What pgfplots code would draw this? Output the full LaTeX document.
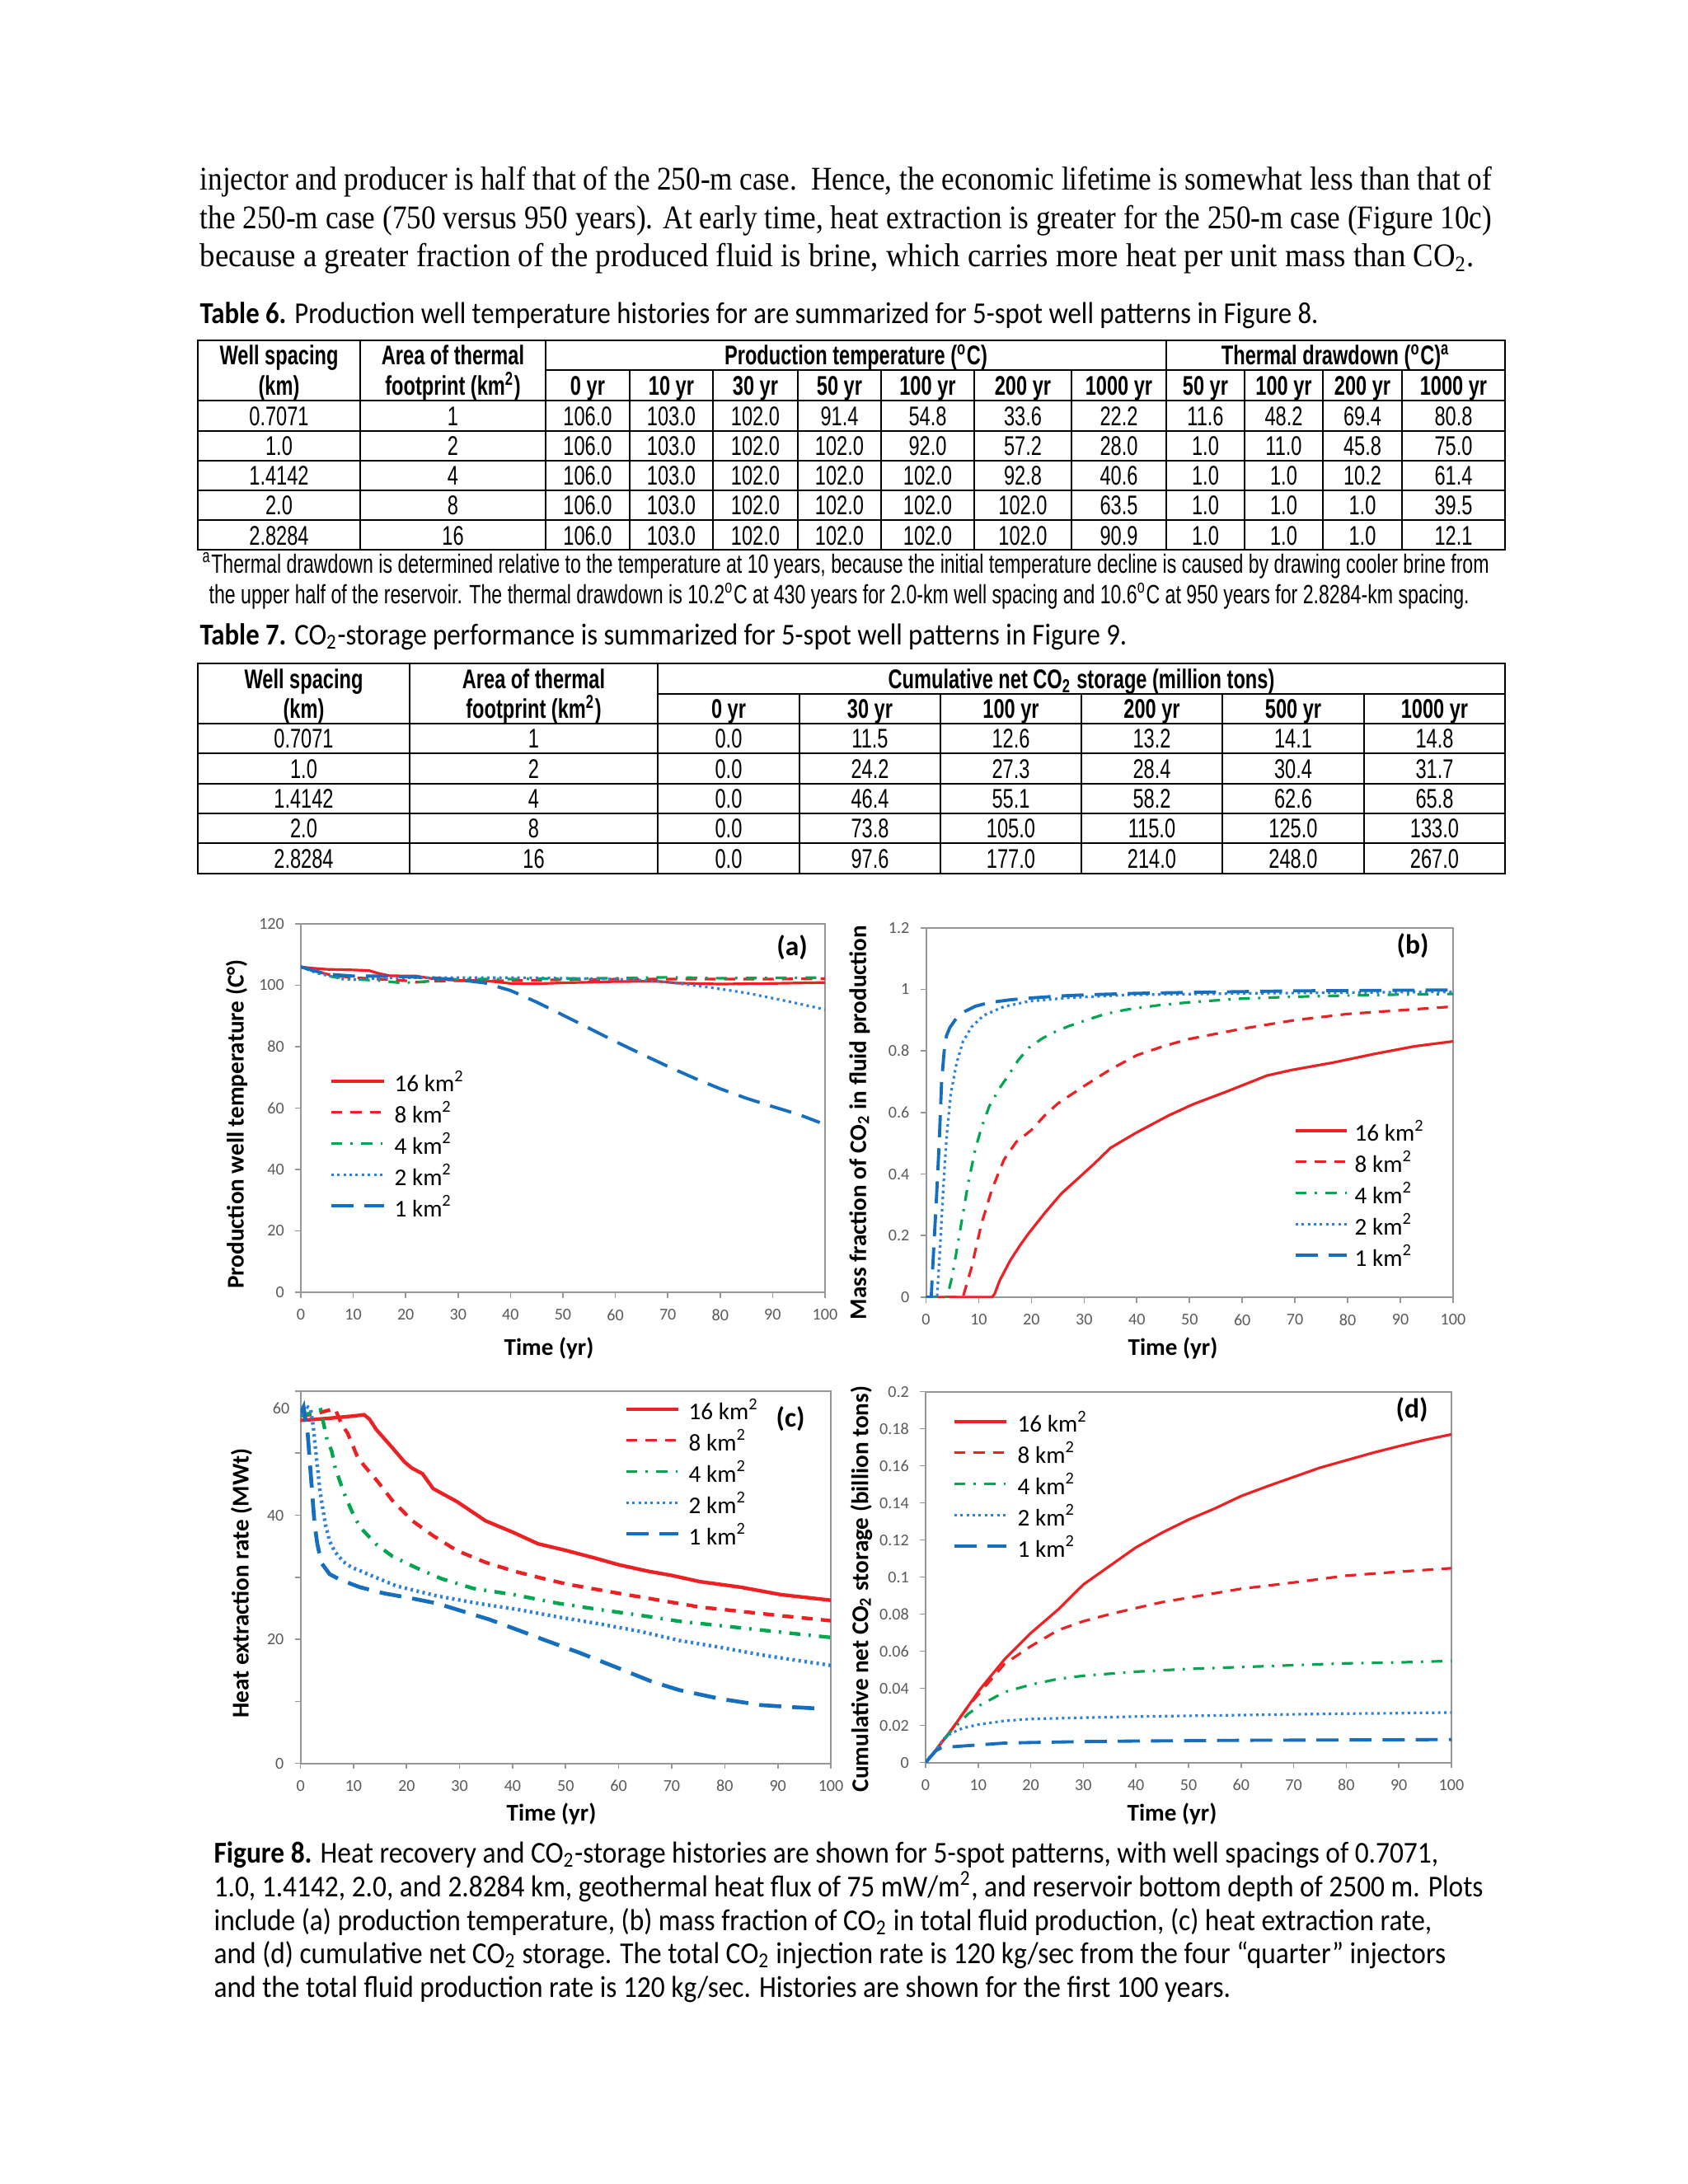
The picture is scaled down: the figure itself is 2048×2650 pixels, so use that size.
\documentclass[border=0pt]{standalone}
\usepackage{pgfplots}
\pgfplotsset{compat=1.18}
\usepackage{fontspec}
\setmainfont{Liberation Serif}[FakeStretch=0.875]
\newfontfamily\serifwide{Liberation Serif}[FakeStretch=0.916]
\newfontfamily\calfont{Carlito}[FakeStretch=0.907]
\newfontfamily\calfontt{Carlito}[FakeStretch=0.89]
\newfontfamily\chfont{Carlito}
\newfontfamily\tabfont{Liberation Sans}[FakeStretch=0.72]

\definecolor{cred}{RGB}{237,32,36}
\definecolor{cgreen}{RGB}{0,166,80}
\definecolor{cblue}{RGB}{22,110,190}
\definecolor{cblue2}{RGB}{45,130,215}
\definecolor{axgray}{RGB}{150,150,150}
\definecolor{tickgray}{RGB}{90,90,90}

\tikzset{
 s16/.style={cred, line width=0.95pt},
 s8/.style={cred, line width=0.95pt, dash pattern=on 4pt off 3pt},
 s4/.style={cgreen, line width=0.95pt, dash pattern=on 4pt off 3pt on 0.8pt off 3pt},
 s2/.style={cblue2, line width=0.95pt, dash pattern=on 0.9pt off 1.3pt},
 s1/.style={cblue, line width=1.15pt, dash pattern=on 8pt off 4pt},
 tabc/.style={font=\tabfont\fontsize{9.8}{11}\selectfont, inner sep=0pt, text height=7pt, text depth=0pt, anchor=center},
 tabh/.style={font=\tabfont\bfseries\fontsize{9.8}{11}\selectfont, inner sep=0pt, text height=7pt, text depth=0pt, anchor=center},
}
\newcommand\legfont{\chfont\fontsize{8.7}{10}\selectfont}
\newcommand\ttlfont{\chfont\bfseries\fontsize{8.7}{10}\selectfont}
\newcommand\letfont{\chfont\bfseries\fontsize{10}{12}\selectfont}
\newcommand\tickfont{\chfont\fontsize{6}{7}\selectfont}

\pgfplotsset{pane/.style={
  scale only axis, anchor=south west,
  xmin=0, xmax=100, xtick={0,10,...,100},
  axis line style={draw=axgray, line width=0.6pt},
  tick style={draw=axgray, line width=0.5pt},
  tick align=outside, major tick length=2pt,
  xtick pos=bottom, ytick pos=left,
  every tick label/.append style={font=\tickfont, text=tickgray},
  xticklabel style={yshift=-0.6pt},
  yticklabel style={xshift=-0.5pt},
  /pgf/number format/assume math mode=true,
  /pgf/number format/fixed,
  scaled y ticks=false,
}}

\newcommand\leg[4]{%
 \foreach \k/\lab in {0/16,1/8,2/4,3/2,4/1} {\node[anchor=west,inner sep=0pt,font=\legfont] at (#3,{-#4-37.8*\k}) {\lab\ km\textsuperscript{2}};}
 \draw[s16] (#1,-#4) -- (#2,-#4);
 \draw[s8] (#1,{-#4-37.8}) -- (#2,{-#4-37.8});
 \draw[s4] (#1,{-#4-75.6}) -- (#2,{-#4-75.6});
 \draw[s2] (#1,{-#4-113.4}) -- (#2,{-#4-113.4});
 \draw[s1] (#1,{-#4-151.2}) -- (#2,{-#4-151.2});
}

\begin{document}
\begin{tikzpicture}[x=0.298828pt,y=0.298828pt]
\path[use as bounding box, fill=white] (0,0) rectangle (2048,-2650);

% ---------- paragraph ----------
\begin{scope}[every node/.style={anchor=base west, inner sep=0pt, font=\fontsize{12}{13.9}\selectfont}]
\node at (242,-230) {\makebox[468.3pt][s]{injector and producer is half that of the 250-m case.\ \ Hence, the economic lifetime is somewhat less than that of}};
\node at (242,-277) {\makebox[468.3pt][s]{the 250-m case (750 versus 950 years). At early time, heat extraction is greater for the 250-m case (Figure 10c)}};
\node at (242,-323) {\serifwide because a greater fraction of the produced fluid is brine, which carries more heat per unit mass than CO\textsubscript{2}.};
\end{scope}

% ---------- captions ----------
\begin{scope}[every node/.style={anchor=base west, inner sep=0pt, font=\calfontt\fontsize{11}{12.1}\selectfont}]
\node at (242,-392) {\textbf{Table 6.} Production well temperature histories for are summarized for 5-spot well patterns in Figure 8.};
\node at (242,-782) {\textbf{Table 7.} CO\textsubscript{2}-storage performance is summarized for 5-spot well patterns in Figure 9.};
\end{scope}
\begin{scope}[every node/.style={anchor=base west, inner sep=0pt, font=\calfont\fontsize{11}{12.1}\selectfont}]
\node at (259,-2260) {\textbf{Figure 8.} Heat recovery and CO\textsubscript{2}-storage histories are shown for 5-spot patterns, with well spacings of 0.7071,};
\node at (259,-2301) {1.0, 1.4142, 2.0, and 2.8284 km, geothermal heat flux of 75 mW/m\textsuperscript{2}, and reservoir bottom depth of 2500 m. Plots};
\node at (259,-2342) {include (a) production temperature, (b) mass fraction of CO\textsubscript{2} in total fluid production, (c) heat extraction rate,};
\node at (259,-2382) {and (d) cumulative net CO\textsubscript{2} storage. The total CO\textsubscript{2} injection rate is 120 kg/sec from the four “quarter” injectors};
\node at (259,-2423) {and the total fluid production rate is 120 kg/sec. Histories are shown for the first 100 years.};
\end{scope}

% ---------- Table 6 ----------
\begin{scope}[line width=0.8pt]
\draw (240,-413) rectangle (1826,-667);
\foreach \yy in {486,523,559,595,631} \draw (240,-\yy) -- (1826,-\yy);
\draw (662,-449) -- (1826,-449);
\foreach \xx in {437,662,1415} \draw (\xx,-413) -- (\xx,-667);
\foreach \xx in {764,865,968,1069,1182,1300,1510,1605,1701} \draw (\xx,-449) -- (\xx,-667);
\end{scope}
\def\colsA{{338.5,549.5,713,814.5,916.5,1018.5,1125.5,1241,1357.5,1462.5,1557.5,1653,1763.5}}
\node[tabh] at (338.5,-431) {Well spacing};
\node[tabh] at (338.5,-467.5) {(km)};
\node[tabh] at (549.5,-431) {Area of thermal};
\node[tabh] at (549.5,-467.5) {footprint (km\textsuperscript{2})};
\node[tabh] at (1038.5,-431) {Production temperature (\textsuperscript{o}C)};
\node[tabh] at (1620.5,-431) {Thermal drawdown (\textsuperscript{o}C)\textsuperscript{a}};
\foreach \v [count=\c from 2] in {0 yr,10 yr,30 yr,50 yr,100 yr,200 yr,1000 yr,50 yr,100 yr,200 yr,1000 yr} {
  \pgfmathsetmacro\xx{\colsA[\c]}
  \node[tabh] at (\xx,-467.5) {\v};
}
\foreach \row [count=\r from 0] in {
 {0.7071,1,106.0,103.0,102.0,91.4,54.8,33.6,22.2,11.6,48.2,69.4,80.8},
 {1.0,2,106.0,103.0,102.0,102.0,92.0,57.2,28.0,1.0,11.0,45.8,75.0},
 {1.4142,4,106.0,103.0,102.0,102.0,102.0,92.8,40.6,1.0,1.0,10.2,61.4},
 {2.0,8,106.0,103.0,102.0,102.0,102.0,102.0,63.5,1.0,1.0,1.0,39.5},
 {2.8284,16,106.0,103.0,102.0,102.0,102.0,102.0,90.9,1.0,1.0,1.0,12.1}} {
 \foreach \v [count=\c from 0] in \row {
  \pgfmathsetmacro\xx{\colsA[\c]}
  \node[tabc] at (\xx,{-504.5-36.2*\r}) {\v};
 }}
\begin{scope}[every node/.style={anchor=base west, inner sep=0pt, font=\tabfont\fontsize{9.6}{11}\selectfont}]
\node at (245,-695) {\textsuperscript{a}Thermal drawdown is determined relative to the temperature at 10 years, because the initial temperature decline is caused by drawing cooler brine from};
\node at (253,-732) {the upper half of the reservoir. The thermal drawdown is 10.2\textsuperscript{o}C at 430 years for 2.0-km well spacing and 10.6\textsuperscript{o}C at 950 years for 2.8284-km spacing.};
\end{scope}

% ---------- Table 7 ----------
\begin{scope}[line width=0.8pt]
\draw (240,-805) rectangle (1826,-1060);
\foreach \yy in {878,914,951,987,1023} \draw (240,-\yy) -- (1826,-\yy);
\draw (798,-842) -- (1826,-842);
\foreach \xx in {497,798} \draw (\xx,-805) -- (\xx,-1060);
\foreach \xx in {970,1141,1312,1483,1655} \draw (\xx,-842) -- (\xx,-1060);
\end{scope}
\def\colsB{{368.5,647.5,884,1055.5,1226.5,1397.5,1569,1740.5}}
\node[tabh] at (368.5,-823.5) {Well spacing};
\node[tabh] at (368.5,-860) {(km)};
\node[tabh] at (647.5,-823.5) {Area of thermal};
\node[tabh] at (647.5,-860) {footprint (km\textsuperscript{2})};
\node[tabh] at (1312,-823.5) {Cumulative net CO\textsubscript{2} storage (million tons)};
\foreach \v [count=\c from 2] in {0 yr,30 yr,100 yr,200 yr,500 yr,1000 yr} {
  \pgfmathsetmacro\xx{\colsB[\c]}
  \node[tabh] at (\xx,-860) {\v};
}
\foreach \row [count=\r from 0] in {
 {0.7071,1,0.0,11.5,12.6,13.2,14.1,14.8},
 {1.0,2,0.0,24.2,27.3,28.4,30.4,31.7},
 {1.4142,4,0.0,46.4,55.1,58.2,62.6,65.8},
 {2.0,8,0.0,73.8,105.0,115.0,125.0,133.0},
 {2.8284,16,0.0,97.6,177.0,214.0,248.0,267.0}} {
 \foreach \v [count=\c from 0] in \row {
  \pgfmathsetmacro\xx{\colsB[\c]}
  \node[tabc] at (\xx,{-896-36.4*\r}) {\v};
 }}

% ---------- plots ----------
\coordinate (pa) at (365,-1568);
\coordinate (pb) at (1123.5,-1574);
\coordinate (pc) at (364.6,-2139.6);
\coordinate (pd) at (1123,-2138.6);

% (a)
\begin{axis}[pane, at={(pa)}, width=190.05pt, height=133.58pt,
  ymin=0, ymax=120, ytick={0,20,...,120}]
\addplot[s16] coordinates {(0,106) (2,105.6) (5,105.2) (10,105) (13,104.8) (15,103.8) (17,103.1) (22,103) (25,102.2) (30,101.6) (35,101.5) (38,101) (40,100.6) (45,100.5) (50,100.8) (60,101.2) (68,101.3) (72,100.7) (80,100.4) (90,100.6) (100,100.9)};
\addplot[s8] coordinates {(0,106) (3,104.5) (6,103.2) (10,102.5) (15,102) (20,101.5) (22,101) (25,101.3) (30,101.5) (40,101.5) (50,101.8) (60,102) (70,102) (80,102) (90,102) (100,102.2)};
\addplot[s4] coordinates {(0,106) (3,104.3) (6,102.8) (10,102) (15,101.5) (19,100.8) (22,101) (26,101.5) (30,102) (40,102) (50,102.2) (60,102.3) (70,102.6) (80,102.3) (90,102.4) (100,102.5)};
\addplot[s2] coordinates {(0,106) (3,104) (6,102.8) (8,102) (10,101.8) (15,102.3) (20,102.5) (30,102.5) (40,102.5) (50,102.3) (60,102) (65,101.7) (70,101) (75,100) (80,98.8) (85,97.5) (90,95.8) (95,94) (100,92.1)};
\addplot[s1] coordinates {(0,106) (3,104.5) (6,103.5) (10,103) (15,103) (20,102.8) (25,102.4) (30,101.8) (35,100.8) (40,98.3) (45,94.5) (50,90.3) (55,86) (60,81.7) (65,77.6) (70,73.6) (75,69.8) (80,66.3) (85,63.2) (90,60.5) (95,57.9) (99,55.3)};
\end{axis}

% (b)
\begin{axis}[pane, at={(pb)}, width=191.10pt, height=133.97pt,
  ymin=0, ymax=1.2, ytick={0,0.2,0.4,0.6,0.8,1,1.2}]
\addplot[s16] coordinates {(0,0) (12.5,0) (13,0.01) (14,0.055) (16,0.12) (17.9,0.17) (19.5,0.208) (22.6,0.275) (25.7,0.337) (28.8,0.385) (32,0.435) (35,0.485) (39.75,0.533) (46,0.59) (50.7,0.627) (56.9,0.667) (64.7,0.72) (69.4,0.738) (77.2,0.762) (85,0.79) (92.7,0.815) (100,0.831)};
\addplot[s8] coordinates {(0,0) (7,0) (8.6,0.094) (10.5,0.237) (12.5,0.35) (14.8,0.447) (17.1,0.504) (20,0.543) (22.5,0.59) (25,0.629) (30,0.686) (35,0.74) (40,0.786) (45,0.815) (50,0.839) (60,0.872) (70,0.9) (80,0.92) (90,0.932) (100,0.944)};
\addplot[s4] coordinates {(0,0) (4,0) (5,0.07) (6,0.17) (7,0.27) (8,0.37) (9.35,0.48) (10.5,0.55) (12,0.62) (14,0.68) (15.6,0.72) (17.5,0.77) (19.5,0.81) (22,0.84) (24.2,0.86) (27,0.88) (30.4,0.9) (34,0.92) (38,0.934) (44,0.948) (50,0.958) (60,0.97) (70,0.976) (80,0.98) (90,0.983) (100,0.985)};
\addplot[s2] coordinates {(0,0) (2.1,0) (2.7,0.17) (3.3,0.36) (3.9,0.52) (4.7,0.66) (5.8,0.76) (7,0.83) (8.6,0.877) (10.9,0.915) (14.8,0.944) (19.5,0.961) (26.5,0.972) (38.2,0.982) (61.6,0.987) (100,0.992)};
\addplot[s1] coordinates {(0,0) (1,0) (1.2,0.075) (1.95,0.31) (2.5,0.5) (2.96,0.7) (3.5,0.81) (3.9,0.85) (4.5,0.875) (5.5,0.9) (7,0.925) (9.35,0.945) (12,0.957) (16,0.966) (20,0.972) (25,0.978) (30,0.982) (40,0.987) (50,0.99) (70,0.995) (100,0.998)};
\end{axis}

% (c)
\begin{axis}[pane, at={(pc)}, width=192.27pt, height=134.95pt,
  ymin=0, ymax=60, ytick={0,10,...,60}, yticklabels={0,,20,,40,,}]
\addplot[s16, line width=1.3pt] coordinates {(0,55.3) (5,55.6) (10,56) (12,56.2) (13,55.5) (14.3,53.8) (17.3,50.9) (19.6,48.6) (21,47.6) (23,46.7) (25,44.3) (29.5,42.2) (34.9,39.1) (40.2,37.2) (44.8,35.4) (50.2,34.3) (55.5,33.1) (60.1,32) (65.4,31) (70,30.3) (75.3,29.3) (83,28.4) (90.6,27.2) (100,26.3)};
\addplot[s8, line width=1.3pt] coordinates {(0,56) (3,56.4) (6.5,57.2) (7.8,54.6) (8.9,53.2) (10.7,49.5) (12,48) (14.3,45.7) (17.3,42.4) (21.1,39.1) (25,36.7) (29.5,34.3) (34.9,32.4) (40.2,31) (44.8,30) (50.2,28.9) (60.1,27.4) (67.7,26.3) (75.3,25.2) (83,24.5) (90.6,23.8) (100,23)};
\addplot[s4, line width=1.3pt] coordinates {(0,56) (2,56.5) (3.8,57) (5,52.2) (5.9,50.3) (6.5,47.8) (8.1,43.8) (9.65,40.7) (11.2,38.1) (14.3,35.3) (17.3,33.4) (21.9,31.5) (26.5,29.8) (32.6,28.2) (40.2,27.2) (48.6,25.8) (56.3,24.8) (63.9,23.9) (71.5,22.9) (79.2,22.2) (86.8,21.5) (94.4,20.8) (100,20.3)};
\addplot[s2, line width=1.3pt] coordinates {(0,56) (1,57.6) (1.9,57.2) (2.4,54.4) (2.8,50.9) (3.3,46.9) (3.7,43.8) (4.2,41.1) (4.7,38.5) (5.5,35.8) (6.5,34.1) (8.1,32.5) (9.65,31.6) (11.7,30.9) (12.7,30.5) (18.1,28.6) (25.7,27) (33.4,25.8) (41,24.8) (48.6,23.6) (56.3,22.5) (63.9,21.3) (71.5,19.8) (79.2,18.7) (86.8,17.5) (94.4,16.5) (100,15.8)};
\addplot[s1, line width=1.4pt] coordinates {(0,56.5) (0.58,57.5) (1.36,53.1) (2.1,44.7) (2.66,38.5) (3.17,35.4) (3.95,32.3) (5.5,30.5) (7.05,29.8) (9.65,28.9) (11.2,28.4) (15.8,27.4) (20.4,26.7) (25.7,25.8) (29.5,24.8) (35.6,23.2) (41,21.5) (46.3,19.8) (52.4,17.9) (60.1,15.3) (66.2,13.2) (71.5,11.8) (79.2,10.4) (86.8,9.4) (92.1,9.1) (98.6,8.8)};
\end{axis}
\node[anchor=east, inner sep=0pt, font=\tickfont, text=tickgray] at (352,-1709) {60};

% (d)
\begin{axis}[pane, at={(pd)}, width=190.65pt, height=134.47pt,
  ymin=0, ymax=0.2, ytick={0,0.02,0.04,0.06,0.08,0.1,0.12,0.14,0.16,0.18,0.2},
  yticklabel style={/pgf/number format/precision=2}]
\addplot[s16] coordinates {(0,0) (2,0.007) (5,0.018) (8,0.03) (10.4,0.0397) (15,0.0556) (20,0.0698) (25.2,0.0825) (30,0.096) (35,0.106) (40,0.116) (45,0.124) (50,0.131) (55,0.137) (60,0.1437) (65,0.149) (70,0.154) (75,0.159) (80,0.163) (85,0.167) (90,0.1706) (95,0.174) (100,0.177)};
\addplot[s8] coordinates {(0,0) (2,0.007) (5,0.018) (8,0.03) (10.4,0.038) (15,0.0532) (20,0.0627) (25.2,0.0714) (30,0.0762) (35,0.080) (40,0.0833) (45,0.0865) (50,0.0889) (60,0.0937) (70,0.0971) (80,0.1008) (90,0.1029) (100,0.1048)};
\addplot[s4] coordinates {(0,0) (2,0.007) (5,0.0175) (8,0.026) (10.4,0.031) (15,0.038) (20,0.042) (25,0.045) (30,0.0468) (40,0.049) (50,0.0505) (60,0.0515) (70,0.0525) (80,0.0535) (90,0.054) (100,0.0548)};
\addplot[s2] coordinates {(0,0) (2,0.007) (3.5,0.013) (5,0.016) (7,0.0185) (10,0.0205) (15,0.0225) (20,0.0235) (30,0.0242) (40,0.0248) (50,0.0252) (60,0.0256) (70,0.026) (80,0.0264) (90,0.0266) (100,0.027)};
\addplot[s1] coordinates {(0,0) (2,0.0065) (3,0.008) (5,0.0085) (10,0.0095) (15,0.0105) (20,0.0108) (30,0.0113) (40,0.0116) (50,0.0118) (60,0.012) (70,0.0121) (80,0.0122) (90,0.0123) (100,0.0124)};
\end{axis}

% axis titles, letters, legends
\node[font=\ttlfont] at (666,-1636) {Time (yr)};
\node[font=\ttlfont] at (1423,-1636) {Time (yr)};
\node[font=\ttlfont] at (669,-2201) {Time (yr)};
\node[font=\ttlfont] at (1422,-2201) {Time (yr)};
\node[font=\ttlfont, rotate=90] at (287,-1364) {Production well temperature (C°)};
\node[font=\ttlfont, rotate=90] at (1043,-1362) {Mass fraction of CO\textsubscript{2} in fluid production};
\node[font=\ttlfont, rotate=90] at (293,-1921) {Heat extraction rate (MWt)};
\node[font=\ttlfont, rotate=90] at (1045,-1928) {Cumulative net CO\textsubscript{2} storage (billion tons)};
\node[font=\letfont] at (961,-1150) {(a)};
\node[font=\letfont] at (1714,-1148) {(b)};
\node[font=\letfont] at (959,-1722) {(c)};
\node[font=\letfont] at (1713,-1711) {(d)};
\leg{402}{466}{478}{1312}
\leg{1572}{1634}{1643}{1372}
\leg{760}{823}{835}{1710}
\leg{1158}{1221}{1234}{1725}
\end{tikzpicture}
\end{document}
